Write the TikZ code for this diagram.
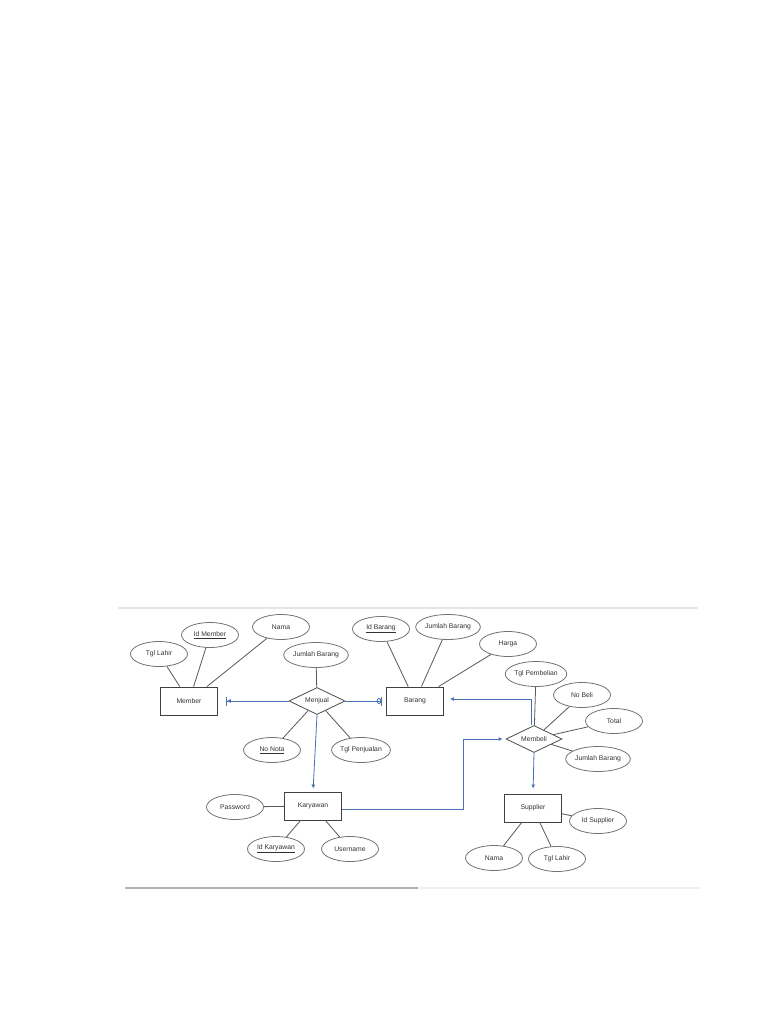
\documentclass[tikz,border=0pt]{standalone}
\usepackage{fontspec}
\setmainfont{Liberation Sans}
\usetikzlibrary{shapes.geometric,arrows.meta}
\definecolor{linkblue}{HTML}{4A70B5}
\definecolor{txtgray}{HTML}{333333}
\newcommand{\erfont}{\fontsize{6.8}{7}\selectfont}
\tikzstyle{ent}=[draw=black!75, fill=white, shape=rectangle, minimum width=57pt, minimum height=28pt, inner sep=0pt, line width=.9pt, font=\erfont, text=txtgray]
\tikzstyle{attr}=[draw=black!55, fill=white, shape=ellipse, minimum width=57pt, minimum height=25pt, inner sep=0pt, line width=.8pt, font=\erfont, text=txtgray]
\tikzstyle{rel}=[draw=black!70, fill=white, shape=diamond, aspect=2.1, minimum width=56pt, minimum height=27pt, inner sep=0pt, line width=.8pt, font=\erfont, text=txtgray]
\tikzstyle{ln}=[draw=black!65, line width=.8pt]
\tikzstyle{link}=[draw=linkblue, line width=.8pt]

\begin{document}
\begin{tikzpicture}[x=1pt, y=-1pt]
		\useasboundingbox [fill=white] (0, 0) rectangle (768, 1024);
		% frame lines
		\draw [black!10, line width=2pt] (118, 608) -- (698, 608);
		\draw [black!6, line width=1.5pt] (418, 888) -- (700, 888);
		\draw [black!30, line width=1.5pt] (125, 888) -- (418, 888);

		% entities
		\node [style=ent] (member) at (189, 701) {Member};
		\node [style=ent] (barang) at (415, 701) {Barang};
		\node [style=ent] (karyawan) at (313, 806) {Karyawan};
		\node [style=ent] (supplier) at (533, 808) {Supplier};

		% relations
		\node [style=rel] (menjual) at (317, 701) {Menjual};
		\node [style=rel] (membeli) at (534, 739) {Membeli};

		% attributes
		\node [style=attr] (tgllahir) at (159, 654) {Tgl Lahir};
		\node [style=attr] (idmember) at (210, 635) {\underline{Id Member}};
		\node [style=attr] (nama) at (281, 627) {Nama};
		\node [style=attr] (jmljual) at (316, 655) {Jumlah Barang};
		\node [style=attr] (nonota) at (272, 750) {\underline{No Nota}};
		\node [style=attr] (tgljual) at (361, 750) {Tgl Penjualan};
		\node [style=attr] (idbarang) at (381, 629) {\underline{Id Barang}};
		\node [style=attr] (jmlbarang) at (448, 627) {Jumlah Barang};
		\node [style=attr] (harga) at (508, 644) {Harga};
		\node [style=attr] (tglbeli) at (536, 674) {Tgl Pembelian};
		\node [style=attr] (nobeli) at (582, 695) {No Beli};
		\node [style=attr] (total) at (614, 721) {Total};
		\node [style=attr] (jmlbeli) at (598, 759) {Jumlah Barang};
		\node [style=attr] (password) at (235, 807) {Password};
		\node [style=attr] (idkaryawan) at (276, 849) {\underline{Id Karyawan}};
		\node [style=attr] (username) at (350, 849) {Username};
		\node [style=attr] (idsupplier) at (598, 821) {Id Supplier};
		\node [style=attr] (namasup) at (494, 858) {Nama};
		\node [style=attr] (tgllahirsup) at (557, 859) {Tgl Lahir};

		\coordinate (bend) at (463, 739);

		% attribute lines
		\draw [style=ln] (tgllahir) to (member);
		\draw [style=ln] (idmember) to (member);
		\draw [style=ln] (nama) to (member);
		\draw [style=ln] (jmljual) to (menjual);
		\draw [style=ln] (nonota) to (menjual);
		\draw [style=ln] (tgljual) to (menjual);
		\draw [style=ln] (idbarang) to (barang);
		\draw [style=ln] (jmlbarang) to (barang);
		\draw [style=ln] (harga) to (barang);
		\draw [style=ln] (tglbeli) to (membeli);
		\draw [style=ln] (nobeli) to (membeli);
		\draw [style=ln] (total) to (membeli);
		\draw [style=ln] (jmlbeli) to (membeli);
		\draw [style=ln] (password) to (karyawan);
		\draw [style=ln] (idkaryawan) to (karyawan);
		\draw [style=ln] (username) to (karyawan);
		\draw [style=ln] (idsupplier) to (supplier);
		\draw [style=ln] (namasup) to (supplier);
		\draw [style=ln] (tgllahirsup) to (supplier);

		% relation links
		\draw [style=link, -{Latex[length=4pt, width=4pt] Bar[width=9pt]}, shorten >=8pt] (menjual.west) to (member.east);
		\draw [style=link, -{Circle[open, length=4.5pt, width=6pt] Bar[width=9pt]}, shorten >=4pt] (menjual.east) to (barang.west);
		\draw [style=link, -{Latex[length=4pt, width=4pt]}, shorten >=3pt] (menjual.south) to (karyawan.north);
		\draw [style=link, -{Latex[length=4pt, width=4pt]}, shorten >=6pt] ([xshift=-3pt]membeli.north) |- ([yshift=2pt]barang.east);
		\draw [style=link, -{Latex[length=4pt, width=4pt]}, shorten >=3pt] ([yshift=-3pt]karyawan.east) -| (bend) to (membeli.west);
		\draw [style=link, -{Latex[length=4pt, width=4pt]}, shorten >=5pt] (membeli.south) to (supplier.north);
	\end{tikzpicture}
\end{document}
